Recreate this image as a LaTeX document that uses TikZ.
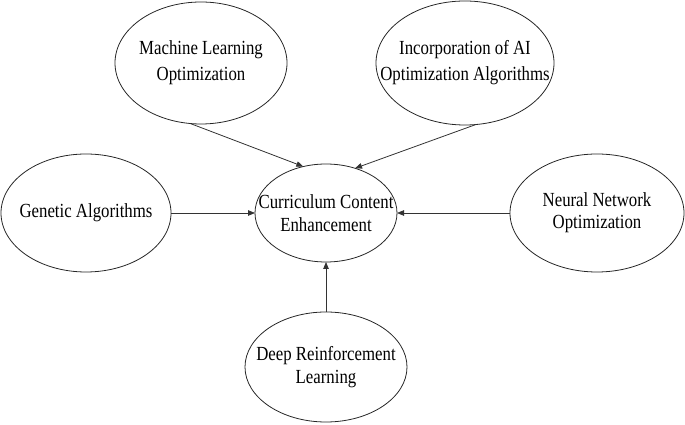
\documentclass[tikz,border=0pt]{standalone}
\usepackage{graphicx}
\usepackage{fontspec}
\setmainfont{Liberation Serif}
\usetikzlibrary{shapes.geometric,arrows.meta}
\newcommand{\sq}[1]{\scalebox{0.84}[1]{#1}}
\tikzset{
  ell/.style={draw=black!85, line width=0.8pt, ellipse, inner sep=0pt, outer sep=0pt},
  lbl/.style={align=center, inner sep=0pt, text=black},
  conn/.style={draw=black!80, line width=0.8pt, -{Triangle[length=7pt,width=5.5pt]}}
}
\begin{document}
\begin{tikzpicture}[x=1pt,y=1pt]
\useasboundingbox (0,0) rectangle (685,425);
\node[ell, minimum width=172pt, minimum height=122pt,
  label={[lbl, font=\fontsize{20}{26}\selectfont]center:{\sq{Machine Learning}\\\sq{Optimization}}}] (ML) at (201,362) {};
\node[ell, minimum width=178pt, minimum height=124pt,
  label={[lbl, font=\fontsize{20}{26}\selectfont]center:{\sq{Incorporation of AI}\\\sq{Optimization Algorithms}}}] (Inc) at (465,362) {};
\node[ell, minimum width=170pt, minimum height=118pt,
  label={[lbl, font=\fontsize{20}{24}\selectfont]center:{\sq{Genetic Algorithms}}}] (Gen) at (86,212) {};
\node[ell, minimum width=142pt, minimum height=98pt,
  label={[lbl, font=\fontsize{20}{23}\selectfont]center:{\sq{Curriculum Content}\\\sq{Enhancement}}}] (Cur) at (326,212) {};
\node[ell, minimum width=174pt, minimum height=118pt,
  label={[lbl, font=\fontsize{20}{22}\selectfont]center:{\sq{Neural Network}\\\sq{Optimization}}}] (Neu) at (597,212) {};
\node[ell, minimum width=162pt, minimum height=110pt,
  label={[lbl, font=\fontsize{20}{23}\selectfont]center:{\sq{Deep Reinforcement}\\\sq{Learning}}}] (Deep) at (326,58) {};
\draw[conn] (ML.260) -- (Cur.116);
\draw[conn] (Inc.280) -- (Cur.57);
\draw[conn] (Gen.east) -- (Cur.west);
\draw[conn] (Neu.west) -- (Cur.east);
\draw[conn] (Deep.north) -- (Cur.south);
\end{tikzpicture}
\end{document}
